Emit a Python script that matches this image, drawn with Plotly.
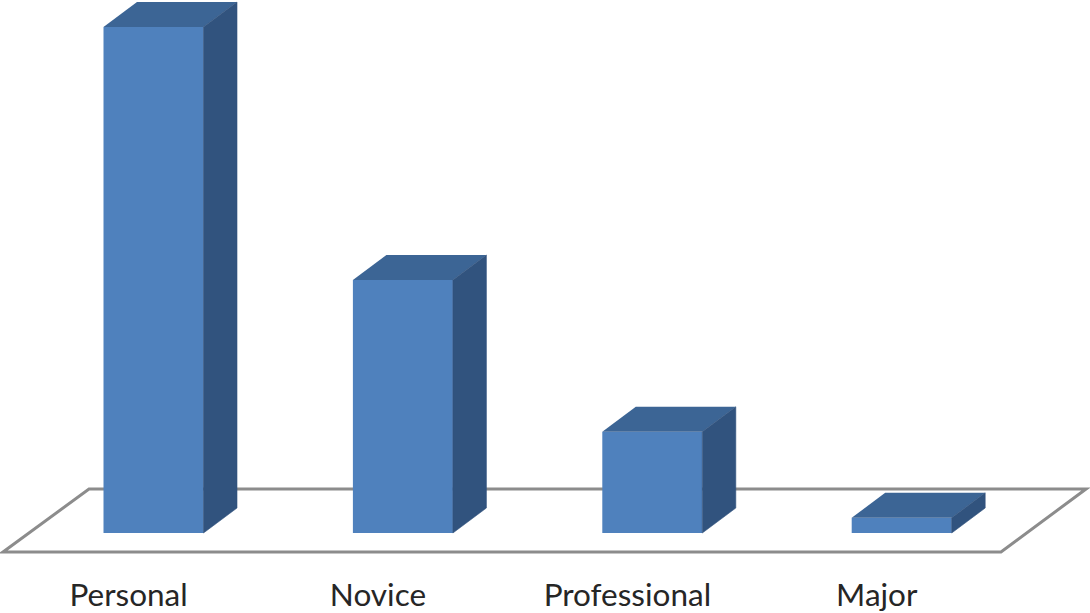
import plotly.graph_objects as go

categories = ["Personal", "Novice", "Professional", "Major"]
values = [50, 25, 10, 1.5]

front_color = "#4f81bd"
side_color = "#31537e"
top_color = "#3c6595"
floor_color = "#8c8c8c"

# pixel scale of the axes, used for the 3D depth of the bars
px_per_cat = 249.4
px_per_val = 10.12
bar_width = 100 / px_per_cat
depth_x = 33.5 / px_per_cat
depth_y = 25 / px_per_val

xs = list(range(len(categories)))

fig = go.Figure()

fig.add_trace(
    go.Bar(x=xs, y=values, width=bar_width, marker=dict(color=front_color, line_width=0))
)

# top and side faces, offset from each bar
for x, v in zip(xs, values):
    left = x - bar_width / 2
    right = x + bar_width / 2
    fig.add_trace(
        go.Scatter(
            x=[left, right, right + depth_x, left + depth_x, left],
            y=[v, v, v + depth_y, v + depth_y, v],
            mode="lines",
            fill="toself",
            fillcolor=top_color,
            line=dict(width=0),
        )
    )
    fig.add_trace(
        go.Scatter(
            x=[right, right + depth_x, right + depth_x, right, right],
            y=[0, depth_y, v + depth_y, v, 0],
            mode="lines",
            fill="toself",
            fillcolor=side_color,
            line=dict(width=0.6, color=side_color),
        )
    )


def to_x(px):
    return (px - 153.5) / px_per_cat


def to_y(py):
    return (533 - py) / px_per_val


# floor of the chart, behind the bars
floor = [(3, 552), (89, 489), (1086, 489), (1001, 552)]
path = "M " + " L ".join(f"{to_x(a)},{to_y(b)}" for a, b in floor) + " Z"
fig.add_shape(
    type="path",
    path=path,
    xref="x",
    yref="y",
    layer="below",
    line=dict(color=floor_color, width=3),
)

fig.update_layout(
    width=1090,
    height=613,
    margin=dict(l=0, r=0, t=0, b=40),
    paper_bgcolor="white",
    plot_bgcolor="white",
    showlegend=False,
    font=dict(family="Lato", size=31.5, color="#262626"),
)
fig.update_xaxes(
    automargin=False,
    range=[to_x(0), to_x(1090)],
    tickmode="array",
    tickvals=[x - 0.1 for x in xs],
    ticktext=categories,
    showgrid=False,
    zeroline=False,
    showline=False,
    ticks="",
)
fig.update_yaxes(
    automargin=False,
    range=[to_y(573), to_y(0)],
    showticklabels=False,
    showgrid=False,
    zeroline=False,
    showline=False,
    ticks="",
)

# the page's default body margin would push the chart off the window
fig.write_html(
    "out.html",
    config={"displayModeBar": False},
    post_script="document.body.style.margin='0';",
)
